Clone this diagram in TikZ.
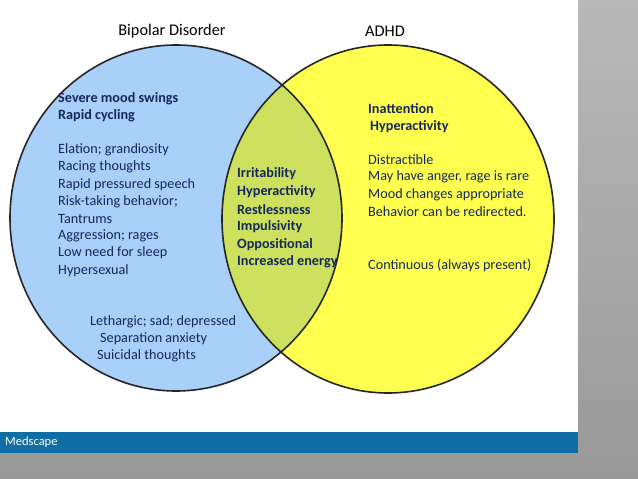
\documentclass[tikz,border=0pt]{standalone}
\usepackage{fontspec}
\setmainfont{Carlito}
\begin{document}
\begin{tikzpicture}[x=1pt,y=-1pt,
 t/.style={anchor=west,inner sep=0pt,font=\fontsize{14.2}{14}\selectfont},
 tb/.style={t,font=\fontsize{14.2}{14}\selectfont\bfseries},
 hd/.style={inner sep=0pt,font=\fontsize{16.3}{16}\selectfont}]
\definecolor{bl}{RGB}{168,208,248}
\definecolor{ye}{RGB}{255,255,80}
\definecolor{gr}{RGB}{205,225,95}
\definecolor{dbl}{RGB}{20,40,90}
\definecolor{med}{RGB}{16,110,165}
\useasboundingbox (0,0) rectangle (638,479);
\shade[top color=gray!55,bottom color=gray!80] (0,0) rectangle (638,479);
\fill[white] (0,0) rectangle (578,432);
\fill[med] (0,432) rectangle (578,453);
\node[anchor=west,text=white,inner sep=0pt,font=\fontsize{12.5}{12}\selectfont\rmfamily] (med) at (5,442) {Medscape};
\coordinate (cb) at (176,218);
\coordinate (cy) at (388,219);
\fill[bl] (cb) ellipse [x radius=166,y radius=173];
\fill[ye] (cy) ellipse [x radius=166,y radius=174];
\begin{scope}
\clip (cb) ellipse [x radius=166,y radius=173];
\fill[gr] (cy) ellipse [x radius=166,y radius=174];
\end{scope}
\draw[line width=1.6pt,black!85] (cb) ellipse [x radius=166,y radius=173];
\draw[line width=1.6pt,black!85] (cy) ellipse [x radius=166,y radius=174];
\node[hd] (h1) at (172,31) {Bipolar Disorder};
\node[hd] (h2) at (385,31) {ADHD};
\node[tb,text=dbl] (a1) at (58,99) {Severe mood swings};
\node[tb,text=dbl] (a2) at (58,116) {Rapid cycling};
\foreach \s [count=\i] in {Elation; grandiosity,Racing thoughts,Rapid pressured speech,Risk-taking behavior;,Tantrums,Aggression; rages,Low need for sleep,Hypersexual}
  \node[t,text=dbl] (l\i) at (58,{150+17.2*(\i-1)}) {\s};
\node[t,text=dbl] (m1) at (90,322) {Lethargic; sad; depressed};
\node[t,text=dbl] (m2) at (100,339) {Separation anxiety};
\node[t,text=dbl] (m3) at (97,356) {Suicidal thoughts};
\foreach \s [count=\i] in {Irritability,Hyperactivity,Restlessness,Impulsivity,Oppositional,Increased energy}
  \node[tb,text=dbl] (c\i) at (237,{174+17.6*(\i-1)}) {\s};
\node[tb,text=dbl] (r1) at (368,109) {Inattention};
\node[tb,text=dbl] (r2) at (370,127) {Hyperactivity};
\node[t,text=dbl] (r3) at (368,160) {Distractible};
\node[t,text=dbl] (r4) at (368,177) {May have anger, rage is rare};
\node[t,text=dbl] (r5) at (368,195) {Mood changes appropriate};
\node[t,text=dbl] (r6) at (368,212) {Behavior can be redirected.};
\node[t,text=dbl] (r7) at (368,265) {Continuous (always present)};
\end{tikzpicture}
\end{document}
